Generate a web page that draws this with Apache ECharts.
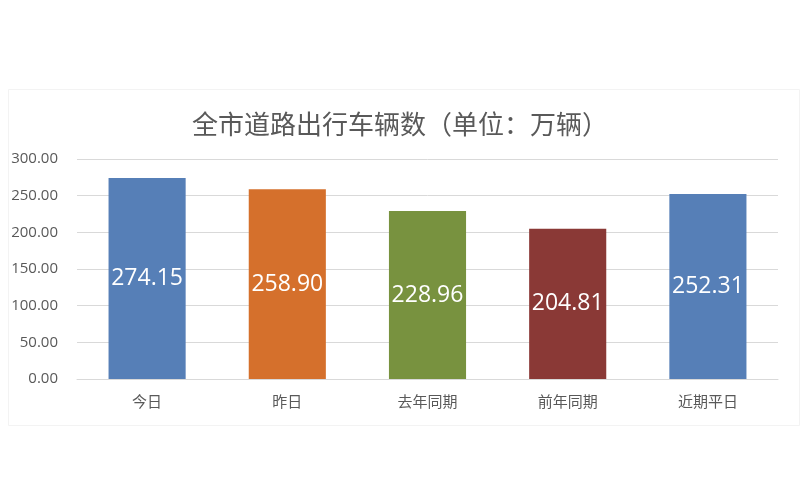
<!DOCTYPE html>
<html>
<head>
<meta charset="utf-8">
<script src="https://cdn.jsdelivr.net/npm/echarts@6/dist/echarts.min.js"></script>
<style>
  html, body { margin: 0; padding: 0; background: #fff; }
  #main { width: 800px; height: 491px; }
</style>
</head>
<body>
<div id="main"></div>
<script>
// 数据
const categories = ['今日', '昨日', '去年同期', '前年同期', '近期平日'];
const vehicleCounts = [274.15, 258.90, 228.96, 204.81, 252.31];
const barColors = ['#567FB7', '#D5702C', '#78923F', '#8A3936', '#567FB7'];

const chart = echarts.init(document.getElementById('main'));

const option = {
  backgroundColor: '#fff',
  animation: false,
  title: {
    text: '全市道路出行车辆数（单位：万辆）',
    left: 'center',
    top: 106,
    textStyle: {
      fontFamily: 'Noto Sans CJK SC',
      fontSize: 26,
      fontWeight: 'normal',
      color: '#595959'
    }
  },
  // 淡色外框
  graphic: [{
    type: 'rect',
    left: 6,
    top: 87,
    shape: { width: 791, height: 336 },
    style: { fill: 'none', stroke: '#f3f3f3', lineWidth: 1 },
    z: -1
  }],
  grid: {
    left: 77,
    right: 22,
    top: 159,
    bottom: 112
  },
  xAxis: {
    type: 'category',
    data: categories,
    axisTick: { show: false },
    axisLine: { lineStyle: { color: '#d9d9d9', width: 1 } },
    axisLabel: {
      fontFamily: 'Noto Sans CJK SC',
      fontSize: 15,
      color: '#595959',
      margin: 15
    }
  },
  yAxis: {
    type: 'value',
    min: 0,
    max: 300,
    interval: 50,
    axisLine: { show: false },
    axisTick: { show: false },
    splitLine: { lineStyle: { color: '#d9d9d9', width: 1 } },
    axisLabel: {
      formatter: (v) => v.toFixed(2),
      fontFamily: 'Open Sans',
      fontSize: 15,
      color: '#595959',
      margin: 19
    }
  },
  series: [{
    type: 'bar',
    barWidth: '55%',
    data: vehicleCounts.map((v, i) => ({
      value: v,
      itemStyle: { color: barColors[i] }
    })),
    label: {
      show: true,
      position: 'inside',
      formatter: (p) => p.value.toFixed(2),
      fontFamily: 'Open Sans',
      fontSize: 23,
      color: '#fff'
    }
  }]
};

chart.setOption(option);
</script>
</body>
</html>
